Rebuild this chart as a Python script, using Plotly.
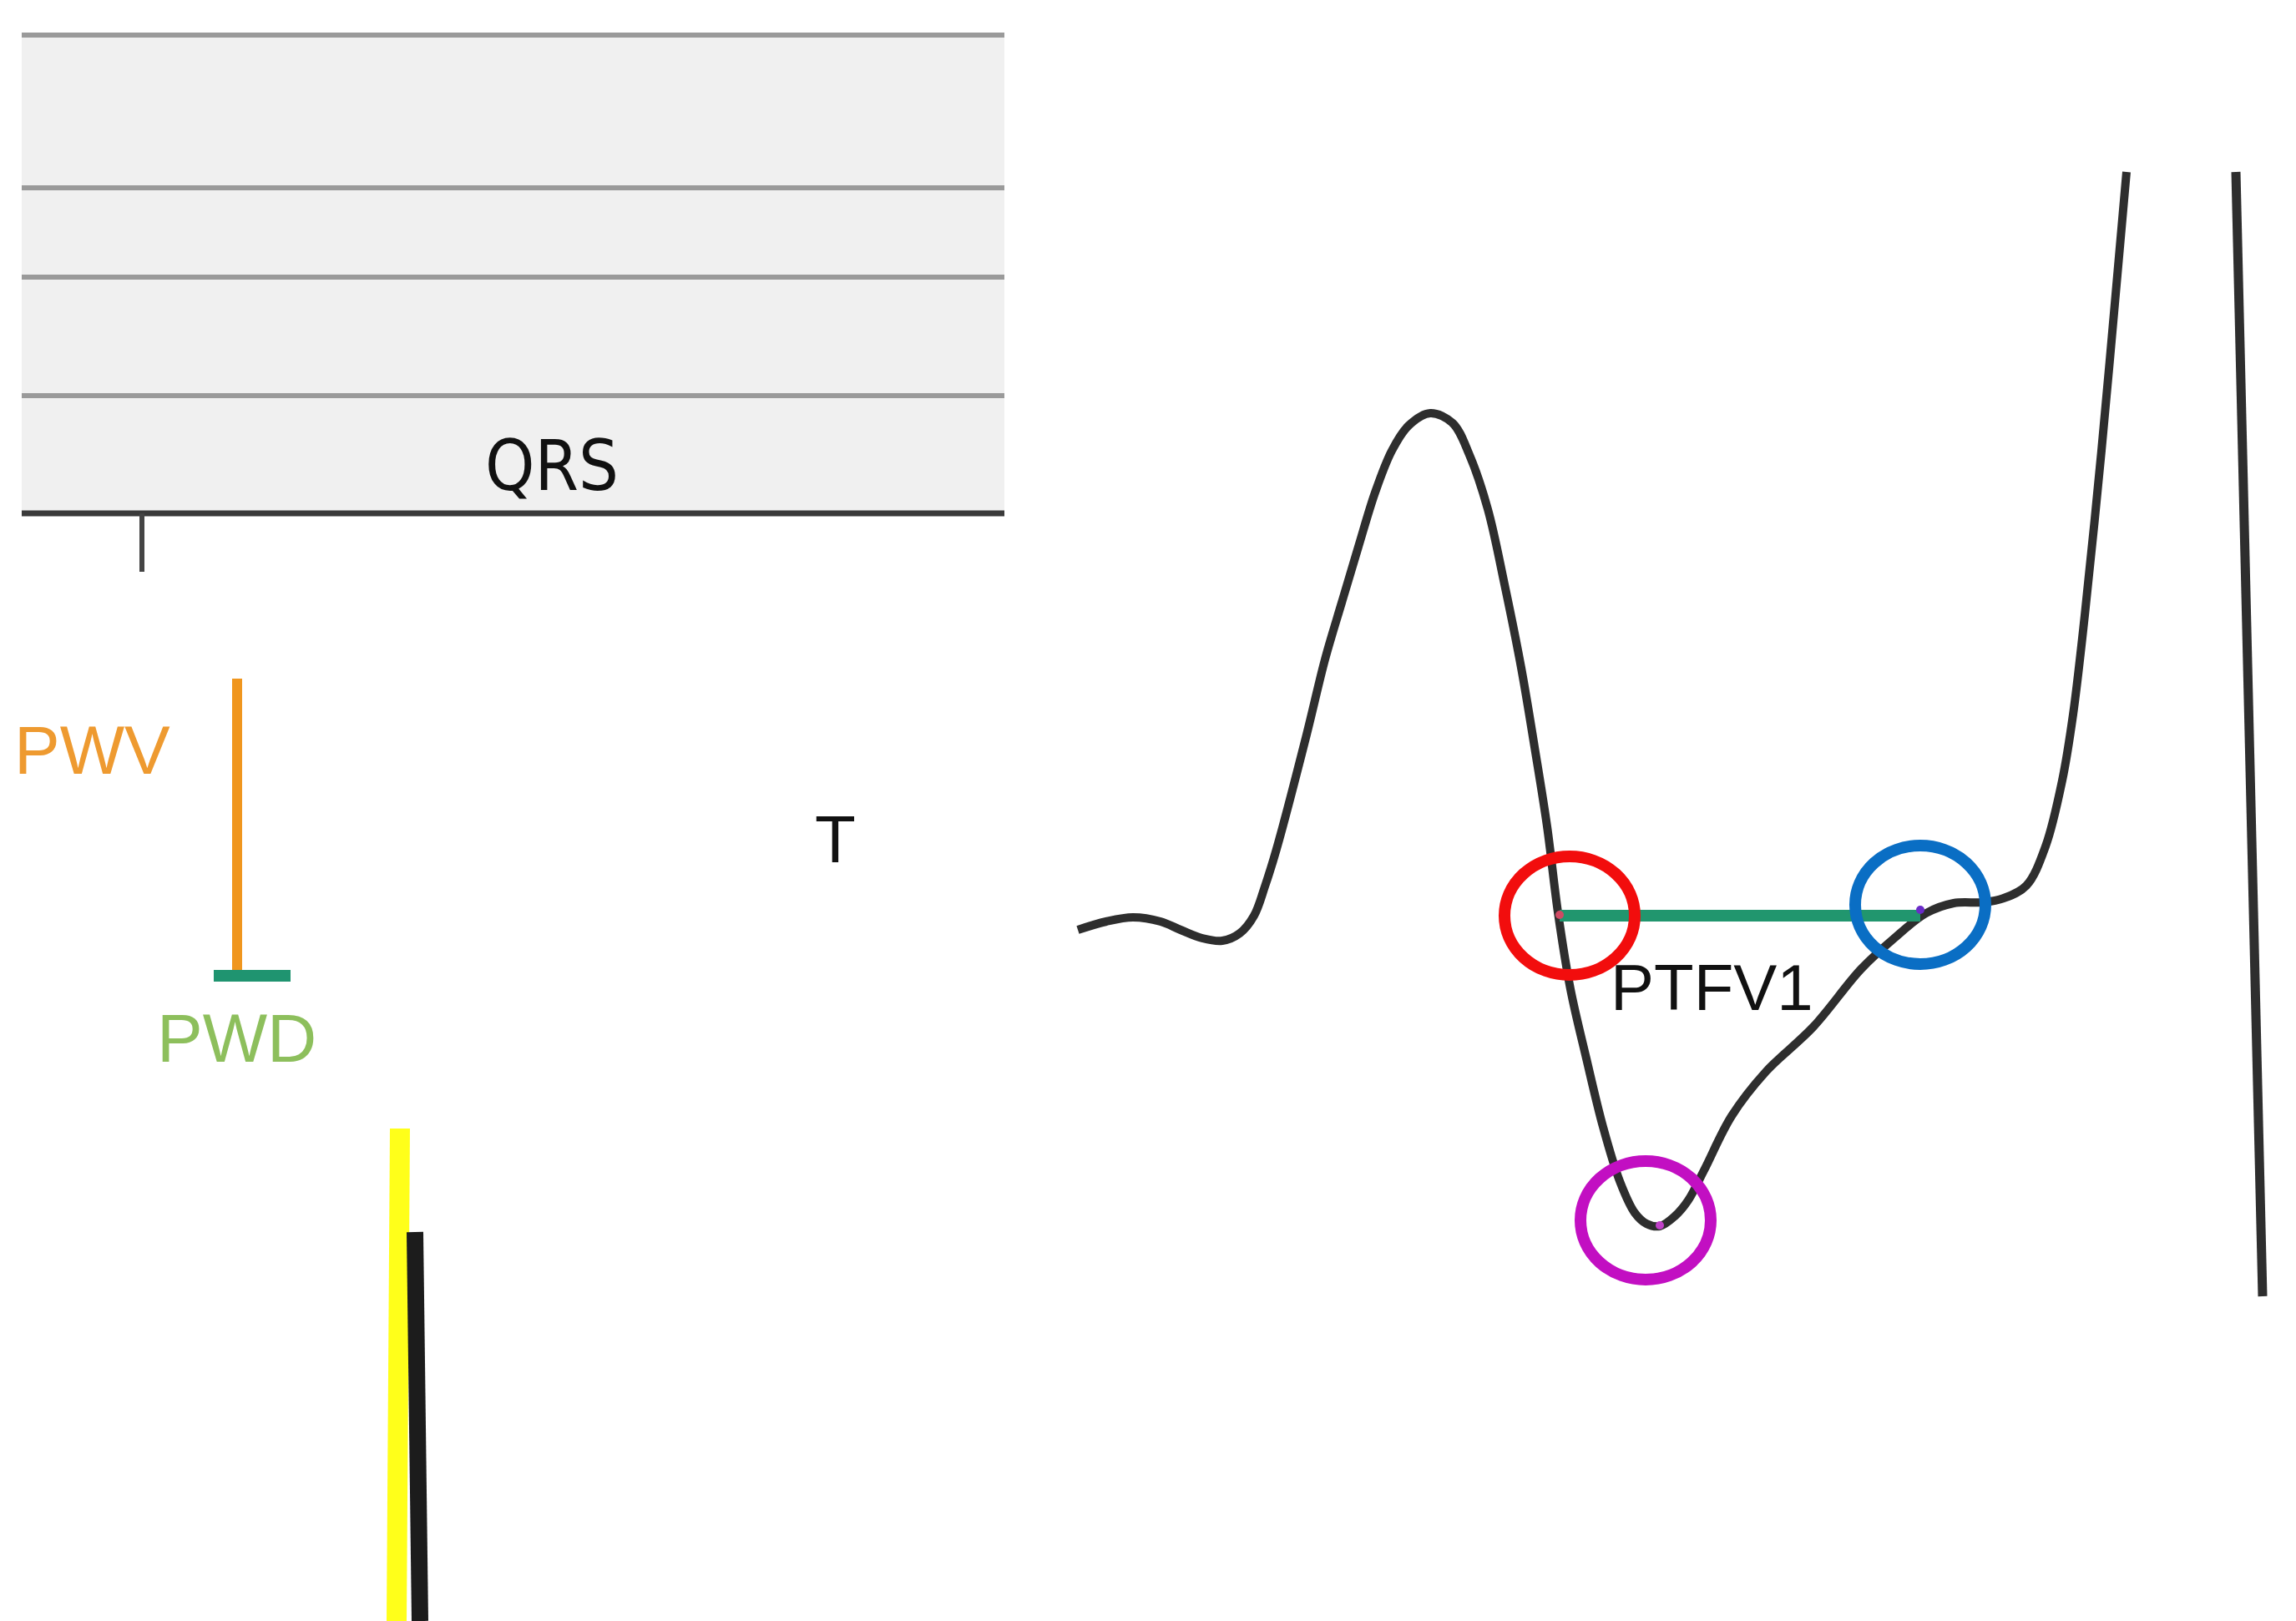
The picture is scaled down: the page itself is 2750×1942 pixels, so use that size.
import plotly.graph_objects as go

W, H = 2750, 1942

# ECG trace on the right (image pixel units, y grows downward)
ecg_x = [1291, 1325, 1357, 1390, 1414, 1440, 1464, 1485, 1502, 1515, 1529, 1565, 1587,
         1607, 1627, 1647, 1667, 1687, 1713, 1740, 1760, 1782, 1802, 1822, 1838, 1853,
         1866, 1881, 1900, 1920, 1940, 1958, 1972, 1988, 2006, 2022, 2041, 2074, 2115,
         2172, 2229, 2270, 2307, 2340, 2376, 2400, 2427, 2450, 2470, 2483, 2497, 2517,
         2532, 2547]
ecg_y = [1114, 1104, 1099, 1104, 1114, 1124, 1127, 1118, 1097, 1062, 1017, 880, 790,
         722, 655, 590, 540, 510, 495, 507, 545, 610, 700, 800, 895, 990,
         1093, 1185, 1268, 1350, 1415, 1453, 1466, 1469, 1457, 1438, 1402, 1337, 1284,
         1230, 1161, 1123, 1094, 1082, 1081, 1076, 1061, 1014, 935, 856, 737, 540,
         375, 206]
s_wave_x = [2678, 2694, 2710]
s_wave_y = [206, 880, 1553]

# PTFV1 markers: onset, nadir, end
pt_x = [1868, 1988, 2300]
pt_y = [1096, 1468, 1090]
circle_colors = ["#f20d0d", "#c20fc2", "#0a6ec4"]
circle_cx = [1880, 1971, 2300]
circle_cy = [1097, 1462, 1084]

# left panel: table rows
row_lines_y = [42, 225, 332, 474]
base_line_y = 615

fig = go.Figure()

# grey header block
fig.add_shape(type="rect", x0=26, x1=1203, y0=42, y1=615,
              fillcolor="#f0f0f0", line_width=0, layer="below")
for yy in row_lines_y:
    fig.add_shape(type="line", x0=26, x1=1203, y0=yy, y1=yy,
                  line=dict(color="#9a9a9a", width=6))
fig.add_shape(type="line", x0=26, x1=1203, y0=base_line_y, y1=base_line_y,
              line=dict(color="#3a3a3a", width=7))
fig.add_shape(type="line", x0=170, x1=170, y0=615, y1=685,
              line=dict(color="#444444", width=6))

# PWV / PWD markers
fig.add_shape(type="line", x0=284, x1=284, y0=813, y1=1166,
              line=dict(color="#f0961e", width=12))
fig.add_shape(type="line", x0=256, x1=348, y0=1169, y1=1169,
              line=dict(color="#1f9470", width=14))

# yellow + black stroke at bottom
fig.add_shape(type="line", x0=479, x1=475, y0=1352, y1=1942,
              line=dict(color="#ffff1a", width=24))
fig.add_shape(type="line", x0=497, x1=503, y0=1476, y1=1942,
              line=dict(color="#1c1c1c", width=20))

fig.add_trace(go.Scatter(x=ecg_x, y=ecg_y, mode="lines",
                         line=dict(color="#2e2e2e", width=10, shape="spline", smoothing=1.0),
                         hoverinfo="skip", showlegend=False))
fig.add_trace(go.Scatter(x=s_wave_x, y=s_wave_y, mode="lines",
                         line=dict(color="#2e2e2e", width=11),
                         hoverinfo="skip", showlegend=False))

# PTFV1 horizontal segment
fig.add_trace(go.Scatter(x=[pt_x[0], pt_x[2]], y=[circle_cy[0], circle_cy[0]], mode="lines",
                         line=dict(color="#21966e", width=14),
                         hoverinfo="skip", showlegend=False))
fig.add_trace(go.Scatter(x=pt_x, y=pt_y, mode="markers",
                         marker=dict(color=["#d04a64", "#c040c8", "#6a2cc8"], size=10),
                         hoverinfo="skip", showlegend=False))

for cx, cy, col in zip(circle_cx, circle_cy, circle_colors):
    fig.add_shape(type="circle", x0=cx - 78, x1=cx + 78, y0=cy - 71, y1=cy + 71,
                  line=dict(color=col, width=14))

labels = [
    ("QRS", 661, 558, "#111111", 84, "DejaVu Sans Condensed"),
    ("PWV", 110, 898, "#ee9a30", 82, "Liberation Sans"),
    ("PWD", 283, 1243, "#8dbf5c", 82, "Liberation Sans"),
    ("T", 1000, 1005, "#111111", 80, "Liberation Sans"),
    ("PTFV1", 2050, 1183, "#111111", 78, "Liberation Sans"),
]
for txt, x, y, col, size, fam in labels:
    fig.add_annotation(x=x, y=y, text=txt, showarrow=False, xanchor="center", yanchor="middle",
                       font=dict(color=col, size=size, family=fam))

fig.update_xaxes(range=[0, W], visible=False, fixedrange=True)
fig.update_yaxes(range=[H, 0], visible=False, fixedrange=True)
fig.update_layout(width=W, height=H, margin=dict(l=0, r=0, t=0, b=0),
                  plot_bgcolor="white", paper_bgcolor="white")

fig.write_html("out.html", config={"displayModeBar": False},
               post_script="document.body.style.margin='0';")
